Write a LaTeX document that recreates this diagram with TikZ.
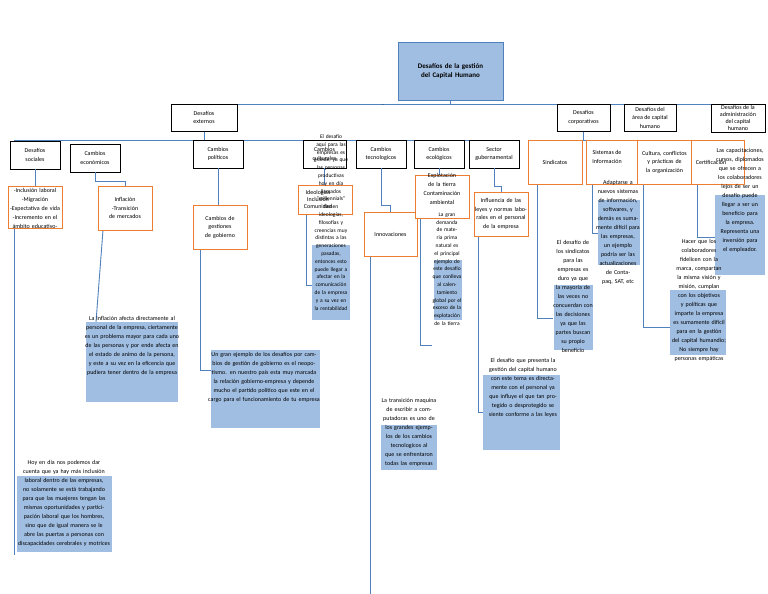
\documentclass[tikz,border=0pt]{standalone}
\usepackage{fontspec}
\setmainfont{Carlito}
\definecolor{hb}{RGB}{160,190,226}
\definecolor{lnc}{RGB}{79,129,189}
\definecolor{orc}{RGB}{237,125,49}
\begin{document}
\begin{tikzpicture}[x=1pt,y=-1pt,
  blk/.style={draw=black,thick,fill=white,align=center,font=\fontsize{6}{8.5}\selectfont,inner sep=1pt},
  org/.style={draw=orc,fill=white,align=center,font=\fontsize{6}{8.5}\selectfont,inner sep=1pt},
  pt/.style={align=center,font=\fontsize{6}{9}\selectfont,inner sep=0.5pt},
  hl/.style={fill=hb},
  ln/.style={draw=lnc,line width=0.9pt}]
\fill[white] (0,0) rectangle (768,594);
\useasboundingbox (0,0) rectangle (768,594);
\draw[ln] (450,100) -- (450,104) (200,104) -- (738,104);
\draw[ln] (204,131) -- (204,140) (14,140) -- (519,140);
\draw[ln] (583,131) -- (583,140) (530,140) -- (744,140);
\node[draw=lnc,fill=hb,minimum width=105pt,minimum height=58pt,text width=95pt,align=center,font=\fontsize{7}{9}\selectfont\bfseries] (t) at (450.5,71) {Desafíos de la gestión del Capital Humano};
\node[font=\tiny] (dash) at (383,106) {-};
\node[blk,minimum width=66pt,minimum height=27pt] (ext) at (204,117.5) {Desafíos\\externos};
\node[blk,minimum width=53pt,minimum height=27pt] (cor) at (583.5,117.5) {Desafíos\\corporativos};
\node[blk,minimum width=52pt,minimum height=27pt] (area) at (650,117.5) {Desafíos del\\área de capital\\humano};
\node[blk,minimum width=54pt,minimum height=28pt,font=\fontsize{6}{7}\selectfont] (adm) at (738,118) {Desafíos de la\\administración\\del capital\\humano};
\node[blk,minimum width=50pt,minimum height=28pt] (soc) at (35,155) {Desafíos\\sociales};
\node[blk,minimum width=50pt,minimum height=28pt] (eco) at (95,158) {Cambios\\económicos};
\node[blk,minimum width=50pt,minimum height=28pt] (pol) at (218,154) {Cambios\\políticos};
\node[blk,minimum width=43pt,minimum height=28pt] (cul) at (324.5,154) {Cambios\\culturales};
\node[blk,minimum width=50pt,minimum height=28pt] (tec) at (381,154) {Cambios\\tecnologicos};
\node[blk,minimum width=50pt,minimum height=28pt] (ecol) at (439,154) {Cambios\\ecológicos};
\node[blk,minimum width=50pt,minimum height=28pt] (gub) at (494,154) {Sector\\gubernamental};
\draw[ln] (35,169) -- (35,186);
\draw[ln] (95,172) -- (95,181) -- (125,181) -- (125,186);
\draw[ln] (218,168) -- (218,205);
\draw[ln] (324,168) -- (324,185);
\draw[ln] (381,168) -- (381,205) -- (390,205) -- (390,212);
\draw[ln] (439,168) -- (439,175);
\draw[ln] (494,168) -- (494,186) -- (501,186) -- (501,192);
\draw[ln] (14,228) -- (14,555);
\draw[ln] (103,230) -- (96,322);
\draw[ln] (200,249) -- (200,370) -- (211,370);
\draw[ln] (306,214) -- (306,285) -- (312,285);
\draw[ln] (370,256) -- (370,594);
\draw[ln] (420,218) -- (420,345) -- (432,345);
\draw[ln] (478,236) -- (478,412) -- (483,412);
\draw[ln] (537,184) -- (537,318) -- (553,318);
\draw[ln] (592,184) -- (592,233) -- (598,233);
\draw[ln] (643,184) -- (643,327) -- (670,327);
\draw[ln] (697,184) -- (697,237) -- (715,237);
\node[org,minimum width=54pt,minimum height=42pt] (o1) at (35,207) {};
\node[pt,text width=50pt,anchor=north] (o1t) at (35,188) {-Inclusión laboral\\-Migración\\-Expectativa de vida\\-Incremento en el ámbito educativo-};
\node[org,minimum width=54pt,minimum height=44pt,text width=50pt] (infl) at (125,208) {Inflación\\-Transición de mercados};
\node[org,minimum width=54pt,minimum height=44pt,text width=46pt] (gest) at (220,227) {Cambios de gestiones de gobierno};
\node[org,minimum width=54pt,minimum height=29pt,text width=50pt] (oc) at (325,199.5) {};
\node[pt] (oct) at (318,199.5) {Ideologías\\[-2pt]Inclusión\\[-2pt]Comunidad};
\node[org,minimum width=53pt,minimum height=44pt] (inn) at (390.5,234) {Innovaciones};
\node[org,minimum width=54pt,minimum height=43pt] (expl) at (442,196.5) {};
\node[pt,text width=52pt] (explt) at (442,189) {Explotación de la tierra\\Contaminación ambiental};
\node[org,minimum width=54pt,minimum height=44pt,text width=52pt] (inf) at (501,214) {Influencia de las leyes y normas laborales en el personal de la empresa};
\node[org,minimum width=54pt,minimum height=44pt] (sin) at (555,162) {Sindicatos};
\node[org,minimum width=54pt,minimum height=44pt,text width=52pt] (sis) at (613,162) {};
\node[pt] (sist) at (607,157) {Sistemas de\\Información};
\node[org,minimum width=55pt,minimum height=44pt,text width=52pt] (cult) at (664.5,162) {Cultura, conflictos y prácticas de la organización};
\node[org,minimum width=53pt,minimum height=44pt] (cert) at (717.5,162) {};
\node[pt] (certt) at (711,162) {Certificación};
\fill[hl] (86,322) rectangle (178,402);
\fill[hl] (17,476) rectangle (112,552);
\fill[hl] (211,350) rectangle (320,428);
\fill[hl] (312,245) rectangle (350,320);
\fill[hl] (381,425) rectangle (437,470);
\fill[hl] (434,260) rectangle (462,320);
\fill[hl] (483,375) rectangle (560,450);
\fill[hl] (554,285) rectangle (593,350);
\fill[hl] (598,200) rectangle (640,265);
\fill[hl] (670,290) rectangle (726,355);
\fill[hl] (715,195) rectangle (765,275);
\node[pt,text width=96pt,anchor=north] (x1) at (132,316) {La inflación afecta directamente al personal de la empresa, ciertamente es un problema mayor para cada uno de las personas y por ende afecta en el estado de animo de la persona, y este a su vez en la eficencia que pudiera tener dentro de la empresa};
\node[pt,text width=96pt,anchor=north] (x2) at (64,460) {Hoy en día nos podemos dar cuenta que ya hay más inclusión laboral dentro de las empresas, no solamente se está trabajando para que las muejeres tengan las mismas oportunidades y participación laboral que los hombres, sino que de igual manera se le abre las puertas a personas con discapacidades cerebrales y motrices};
\node[pt,text width=112pt,anchor=north] (x3) at (264,352) {Un gran ejemplo de los desafíos por cambios de gestión de gobierno es el neopotismo. en nuestro país esta muy marcada la relación gobierno-empresa y depende mucho el partido politico que este en el cargo para el funcionamiento de tu empresa};
\node[pt,text width=36pt,anchor=north,font=\fontsize{5.5}{7.8}\selectfont] (x4) at (331,134) {El desafío aquí para las empresas es grande, ya que las personas productivas hoy en día llamados ``millennials'' tienen ideologías, filosofías y creencias muy distintas a las generaciones pasadas, entonces esto puede llegar a afectar en la comunicación de la empresa y a su vez en la rentabilidad};
\node[pt,text width=58pt,anchor=north] (x5) at (409,398) {La transición maquina de escribir a computadoras es uno de los grandes ejemplos de los cambios tecnologicos al que se enfrentaron todas las empresas};
\node[pt,text width=30pt,anchor=north,font=\fontsize{5.5}{7.8}\selectfont] (x6) at (447,212) {La gran demanda de materia prima natural es el principal ejemplo de este desafío que conlleva al calentamiento global por el exceso de la explotación de la tierra};
\node[pt,text width=82pt,anchor=north] (x7) at (523,358) {El desafío que presenta la gestión del capital humano con este tema es directamente con el personal ya que influye el que tan protegido o desprotegido se siente conforme a las leyes};
\node[pt,text width=40pt,anchor=north] (x8) at (573,240) {El desafío de los sindicatos para las empresas es duro ya que la mayoría de las veces no concuerdan con las decisiones ya que las partes buscan su propio beneficio};
\node[pt,text width=44pt,anchor=north] (x9) at (618,180) {Adaptarse a nuevos sistemas de información, softwares, y demás es sumamente difícil para las empresas, un ejemplo podría ser las actualizaciones de Contapaq, SAT, etc};
\node[pt,text width=58pt,anchor=north] (x10) at (699,239) {Hacer que los colaboradores fidelicen con la marca, compartan la misma visión y misión, cumplan con los objetivos y políticas que imparte la empresa es sumamente difícil para en la gestión del capital humandio; No siempre hay personas empáticas};
\node[pt,text width=48pt,anchor=north] (x11) at (740,148) {Las capacitaciones, cursos, diplomados que se ofrecen a los colaboradores lejos de ser un desafío puede llegar a ser un beneficio para la empresa. Representa una inversión para el empleador.};
\end{tikzpicture}
\end{document}
